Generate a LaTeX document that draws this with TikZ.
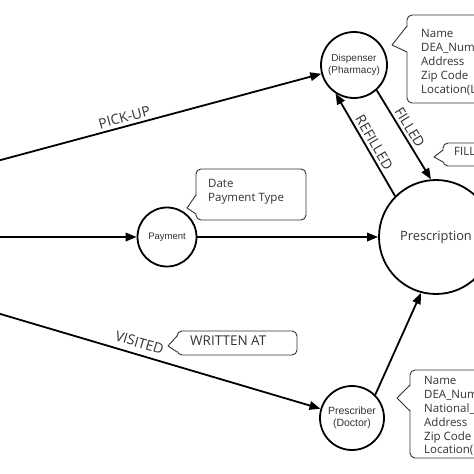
\documentclass[tikz,border=0pt]{standalone}
\usepackage{fontspec}
\setmainfont{Open Sans}
\newfontfamily\arialf{Liberation Sans}
\usetikzlibrary{arrows.meta}
\definecolor{ink}{HTML}{333333}
% #1,#2 top-left; #3,#4 bottom-right; #5,#6 tip; #7,#8 pointer base (top, bottom) on left side
\newcommand\bubblebox[8]{%
  \draw[bubble] (#1,#2) rectangle (#3,#4);
  \fill[white] (#1+1.2,#7) -- (#5,#6) -- (#1+1.2,#8) -- cycle;
  \draw[bubline] (#1,#7) -- (#5,#6) -- (#1,#8);
}
\begin{document}
\begin{tikzpicture}[x=1pt,y=-1pt,
  conn/.style={line width=1.8pt, -{Triangle[length=11pt,width=8.5pt]}},
  ent/.style={circle, draw, line width=1.8pt, inner sep=0pt, align=center, text=ink},
  bubble/.style={draw=ink, line width=0.9pt, rounded corners=5pt},
  bubline/.style={draw=ink, line width=0.9pt, line join=round},
  btext/.style={font=\fontsize{11.5}{13.9}\selectfont, text=ink, align=left, anchor=north west, inner sep=0pt},
  elabel/.style={font=\fontsize{14}{16}\selectfont, text=ink, sloped, above=2pt, inner sep=1pt}]
\useasboundingbox (0,0) rectangle (474,474);
\fill[white] (0,0) rectangle (474,474);
\clip (0,0) rectangle (474,474);
% entities
\node[ent, minimum size=66pt, font=\arialf\fontsize{10}{12}\selectfont] (disp) at (354,65) {Dispenser\\(Pharmacy)};
\node[ent, minimum size=59pt, font=\arialf\fontsize{9.5}{11}\selectfont] (pay) at (167,237) {Payment};
\node[ent, minimum size=114pt, font=\fontsize{12.8}{15}\selectfont] (presc) at (436,237) {Prescription};
\node[ent, minimum size=64pt, font=\arialf\fontsize{10.5}{12.5}\selectfont] (doc) at (352,418) {Prescriber\\(Doctor)};
% free ends at the left border
\coordinate (L1) at (-3,161);
\coordinate (L2) at (-3,237);
\coordinate (L3) at (-3,313);
% connectors
\draw[conn] (L1) -- node[elabel, pos=0.4] (lpick) {PICK-UP} (disp);
\draw[conn] (L2) -- (pay);
\draw[conn] (pay) -- (presc);
\draw[conn] (L3) -- node[elabel, pos=0.43, above=3pt] (lvis) {VISITED} (doc);
\draw[conn] (presc.135) -- node[elabel, pos=0.48] (lrefill) {REFILLED} (disp.237);
\draw[conn] (disp.-48) -- node[elabel, pos=0.47] (lfill) {FILLED} (presc.95);
\draw[conn] (doc.45) -- (presc.255);
% callouts
\bubblebox{407}{15}{500}{103}{392}{45}{26}{52}
\node[btext] (dispinfo) at (421,29) {Name\\DEA\_Number\\Address\\Zip Code\\Location(Lat, Long)};
\bubblebox{196}{169}{306}{220}{187}{208}{195}{214}
\node[btext] (payinfo) at (208,179) {Date\\Payment Type};
\bubblebox{443}{143}{500}{166}{434}{157}{150}{162}
\node[btext] (fillinfo) at (454,147) {FILLED};
\bubblebox{177}{331}{297}{355}{168}{346}{336}{352}
\node[btext, font=\fontsize{13.5}{15}\selectfont] (writinfo) at (190,336) {WRITTEN AT};
\bubblebox{410}{370}{500}{458}{397}{398}{385}{411}
\node[btext] (docinfo) at (424,376) {Name\\DEA\_Number\\National\_ID\\Address\\Zip Code\\Location(Lat, Long)};
\end{tikzpicture}
\end{document}
